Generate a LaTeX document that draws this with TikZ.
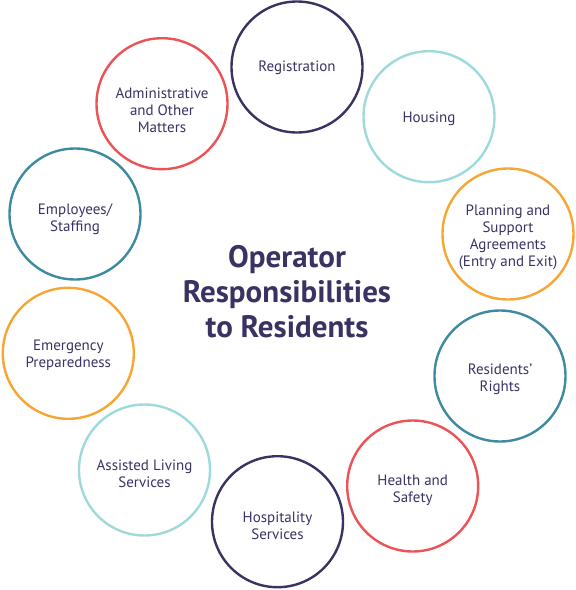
\documentclass[tikz,border=0pt]{standalone}
\usepackage{fontspec}
\setmainfont{PT Sans}
\definecolor{navy}{HTML}{3A3262}
\definecolor{cred}{HTML}{EC5256}
\definecolor{lteal}{HTML}{9FDADA}
\definecolor{corange}{HTML}{F6A633}
\definecolor{dteal}{HTML}{3E8AA0}
\tikzset{
  ring/.style={circle, draw=#1, line width=2.4pt, minimum size=131pt, inner sep=0pt},
  rtext/.style={text=navy, align=center, inner sep=0pt, font=\fontsize{15}{17}\selectfont},
  title/.style={text=navy, align=center, font=\bfseries\fontsize{31}{35}\selectfont}
}
\begin{document}
\begin{tikzpicture}[x=1pt,y=-1pt]
\useasboundingbox (0,0) rectangle (576,590);
\node[ring=navy]    (reg) at (297,67)     {};
\node[ring=lteal]   (hou) at (429,116.7)  {};
\node[ring=corange] (pla) at (508,234)    {};
\node[ring=dteal]   (rig) at (500,376)    {};
\node[ring=cred]    (hea) at (412.7,486)  {};
\node[ring=navy]    (hos) at (277.5,521.7){};
\node[ring=lteal]   (ass) at (144.5,470)  {};
\node[ring=corange] (eme) at (68.3,353.3) {};
\node[ring=dteal]   (emp) at (75,214)     {};
\node[ring=cred]    (adm) at (162,103.7)  {};
\node[rtext] (reg-t) at ([yshift=-1pt]reg.center)   {Registration};
\node[rtext] (hou-t) at ([yshift=-2pt]hou.center)   {Housing};
\node[rtext] (pla-t) at ([yshift=-3pt]pla.center)   {Planning and\\Support\\Agreements\\(Entry and Exit)};
\node[rtext] (rig-t) at ([yshift=-3pt]rig.center)   {Residents’\\Rights};
\node[rtext] (hea-t) at ([yshift=-4pt]hea.center)   {Health and\\Safety};
\node[rtext] (hos-t) at ([yshift=-4.5pt]hos.center) {Hospitality\\Services};
\node[rtext] (ass-t) at ([yshift=-4pt]ass.center)   {Assisted Living\\Services};
\node[rtext] (eme-t) at ([yshift=-1.5pt]eme.center) {Emergency\\Preparedness};
\node[rtext] (emp-t) at ([yshift=-5.5pt]emp.center) {Employees/\\Staffing};
\node[rtext] (adm-t) at ([yshift=-7pt]adm.center)   {Administrative\\and Other\\Matters};
\node[title] (ttl) at (287,292) {Operator\\Responsibilities\\to Residents};
\end{tikzpicture}
\end{document}
